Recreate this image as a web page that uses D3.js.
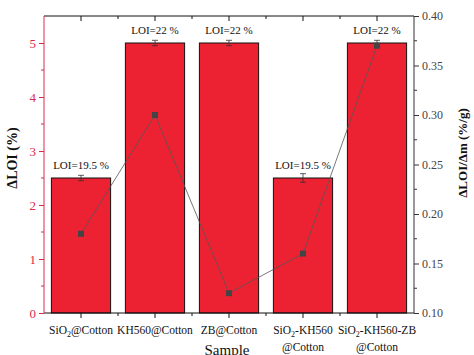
<!DOCTYPE html>
<html><head><meta charset="utf-8">
<script src="https://cdn.jsdelivr.net/npm/d3@7"></script>
<style>body{margin:0;background:#fff}svg{display:block}svg text{font-family:"Liberation Serif","Times New Roman",serif !important}</style>
</head><body>
<svg id="c" width="474" height="355"></svg>
<script>
const categories = ["SiO2@Cotton","KH560@Cotton","ZB@Cotton","SiO2-KH560@Cotton","SiO2-KH560-ZB@Cotton"];
const deltaLOI = [2.5, 5, 5, 2.5, 5];
const deltaLOIErr = [0.05, 0.05, 0.05, 0.08, 0.05];
const ratio = [0.18, 0.30, 0.12, 0.16, 0.37];
const loiLabels = ["LOI=19.5 %","LOI=22 %","LOI=22 %","LOI=19.5 %","LOI=22 %"];
const leftTicks = [0,1,2,3,4,5];
const rightTicks = [0.10,0.15,0.20,0.25,0.30,0.35,0.40];

const svg = d3.select("#c");
const m = {l:44, r:414, t:16, b:313};
const red = "#dc2a4c", barFill = "#ec2232";
const x = d3.scaleBand().domain(categories).range([m.l, m.r]).paddingInner(0.2).paddingOuter(0.1);
const y = d3.scaleLinear().domain([0,5.5]).range([m.b, m.t]);
const y2 = d3.scaleLinear().domain([0.10,0.40]).range([m.b, m.t]);

// bars
svg.selectAll("rect.bar").data(categories).join("rect")
  .attr("x", d=>x(d)).attr("width", x.bandwidth())
  .attr("y", (d,i)=>y(deltaLOI[i])).attr("height", (d,i)=>y(0)-y(deltaLOI[i]))
  .attr("fill", barFill).attr("stroke","#111").attr("stroke-width",1);

// error bars
const cx = d=>x(d)+x.bandwidth()/2;
categories.forEach((d,i)=>{
  const g = svg.append("g").attr("stroke","#333").attr("stroke-width",0.8);
  const a=y(deltaLOI[i]+deltaLOIErr[i]), b=y(deltaLOI[i]-deltaLOIErr[i]);
  g.append("line").attr("x1",cx(d)).attr("x2",cx(d)).attr("y1",a).attr("y2",b);
  g.append("line").attr("x1",cx(d)-3).attr("x2",cx(d)+3).attr("y1",a).attr("y2",a);
  g.append("line").attr("x1",cx(d)-3).attr("x2",cx(d)+3).attr("y1",b).attr("y2",b);
});

// LOI labels
svg.selectAll("text.loi").data(categories).join("text")
  .attr("x", d=>cx(d)).attr("y",(d,i)=>y(deltaLOI[i])-9)
  .attr("text-anchor","middle").attr("font-size",11).attr("fill","#111")
  .text((d,i)=>loiLabels[i]);

// line
svg.append("path").datum(categories)
  .attr("d", d3.line().x(d=>cx(d)).y((d,i)=>y2(ratio[i])))
  .attr("fill","none").attr("stroke","#555").attr("stroke-width",0.8);
svg.selectAll("rect.pt").data(categories).join("rect")
  .attr("x", d=>cx(d)-3).attr("y",(d,i)=>y2(ratio[i])-3).attr("width",6).attr("height",6)
  .attr("fill","#444");

// top border axis
const topAx = svg.append("g").attr("transform",`translate(0,${m.t})`)
  .call(d3.axisTop(x).tickSize(-5).tickFormat(""));
topAx.select(".domain").attr("stroke","#111").attr("d",`M${m.l},0H${m.r}`);
topAx.selectAll(".tick line").attr("stroke","#111");
svg.append("g").selectAll("line").data(categories.slice(1)).join("line")
  .attr("x1",d=>x(d)-x.step()*0.1).attr("x2",d=>x(d)-x.step()*0.1)
  .attr("y1",m.t).attr("y2",m.t+3).attr("stroke","#111");

// bottom axis
const bot = svg.append("g").attr("transform",`translate(0,${m.b})`)
  .call(d3.axisBottom(x).tickSize(5).tickFormat(""));
bot.select(".domain").attr("stroke","#111").attr("d",`M${m.l},0H${m.r}`);
bot.selectAll(".tick line").attr("stroke","#111");
svg.append("g").selectAll("line").data(categories.slice(1)).join("line")
  .attr("x1",d=>x(d)-x.step()*0.1).attr("x2",d=>x(d)-x.step()*0.1)
  .attr("y1",m.b).attr("y2",m.b+3).attr("stroke","#111");

// x labels
const xl = [["SiO|2|@Cotton"],["KH560@Cotton"],["ZB@Cotton"],["SiO|2|-KH560","@Cotton"],["SiO|2|-KH560-ZB","@Cotton"]];
categories.forEach((d,i)=>{
  xl[i].forEach((line,j)=>{
    const t = svg.append("text").attr("x",cx(d)).attr("y",m.b+21+j*17)
      .attr("text-anchor","middle").attr("font-size",11.5).attr("fill","#111");
    const parts=line.split("|");
    parts.forEach((p,k)=>{
      const ts=t.append("tspan").text(p);
      if(k===1){ts.attr("font-size",8).attr("dy",3);}
      if(k===2 && parts.length>2){ts.attr("dy",-3);}
    });
  });
});
svg.append("text").attr("x",(m.l+m.r)/2-2).attr("y",m.b+42).attr("text-anchor","middle")
  .attr("font-size",15).attr("fill","#111").text("Sample");

// left axis
const la = svg.append("g").attr("transform",`translate(${m.l},0)`)
  .call(d3.axisLeft(y).tickValues(leftTicks).tickSize(5).tickFormat(d3.format("d")));
la.select(".domain").attr("stroke",red).attr("d",`M0,${m.b}V${m.t}`);
la.selectAll(".tick line").attr("stroke",red);
la.selectAll(".tick text").attr("fill",red).attr("font-size",13);
svg.append("g").selectAll("line").data(d3.range(0.5,5.5,1)).join("line")
  .attr("x1",m.l-3).attr("x2",m.l).attr("y1",d=>y(d)).attr("y2",d=>y(d)).attr("stroke",red);
svg.append("text").attr("transform",`translate(17,158) rotate(-90)`)
  .attr("text-anchor","middle").attr("font-size",14).attr("font-weight","bold").attr("fill","#111")
  .text("ΔLOI (%)");

// right axis
const ra = svg.append("g").attr("transform",`translate(${m.r},0)`)
  .call(d3.axisRight(y2).tickValues(rightTicks).tickSize(5).tickFormat(d3.format(".2f")));
ra.select(".domain").attr("stroke","#333").attr("d",`M0,${m.b}V${m.t}`);
ra.selectAll(".tick line").attr("stroke","#333");
ra.selectAll(".tick text").attr("fill","#444").attr("font-size",12);
svg.append("g").selectAll("line").data(d3.range(0.125,0.40,0.05)).join("line")
  .attr("x1",m.r).attr("x2",m.r+3).attr("y1",d=>y2(d)).attr("y2",d=>y2(d)).attr("stroke","#333");
svg.append("text").attr("transform",`translate(467,153) rotate(-90)`)
  .attr("text-anchor","middle").attr("font-size",13).attr("font-weight","bold").attr("fill","#111")
  .text("ΔLOI/Δm (%/g)");
</script>
</body></html>
